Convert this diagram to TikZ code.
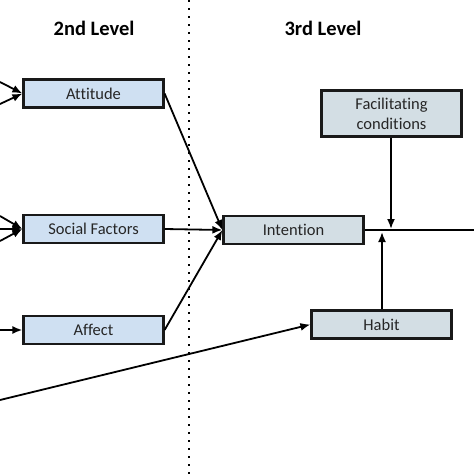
\documentclass[tikz,border=0pt]{standalone}
\usepackage{fontspec}
\setmainfont{Carlito}[Ligatures=NoCommon]
\usetikzlibrary{arrows.meta}
\definecolor{boxblue}{RGB}{207,224,242}
\definecolor{boxgrey}{RGB}{211,222,228}
\begin{document}
\begin{tikzpicture}[x=1pt,y=-1pt,
  lvbox/.style={draw=black!90,line width=2.2pt,fill=boxblue,minimum width=140pt,minimum height=28pt,inner sep=0pt,font=\fontsize{16.5}{20}\selectfont,text=black!85},
  gbox/.style={lvbox,fill=boxgrey},
  conn/.style={line width=1.8pt,-{Latex[length=10pt,width=8pt]}},
  plain/.style={line width=1.8pt},
  title/.style={font=\fontsize{20.5}{24}\selectfont\bfseries}]
\useasboundingbox (0,0) rectangle (474,474);
\fill[white] (0,0) rectangle (474,474);
% dotted separator
\draw[line width=2pt,dash pattern=on 2pt off 6pt] (189,0) -- (189,474);
% titles
\node[title] (t2) at (94,28) {2nd Level};
\node[title] (t3) at (323,28) {3rd Level};
% boxes
\node[lvbox] (att) at (93.5,93.5) {Attitude};
\node[lvbox] (soc) at (93.5,229) {Social Factors};
\node[lvbox] (aff) at (93.5,330) {Affect};
\node[gbox] (int) at (293.5,230) {Intention};
\node[gbox,minimum height=46pt,align=center] (fac) at (391.5,113.5) {Facilitating\\conditions};
\node[gbox] (hab) at (381.5,324.5) {Habit};
% free ends
\coordinate (a1) at (0,82);
\coordinate (a2) at (0,104);
\coordinate (s1) at (0,216);
\coordinate (s2) at (0,229);
\coordinate (s3) at (0,241);
\coordinate (f1) at (0,330);
\coordinate (b1) at (0,400);
\coordinate (out) at (474,230);
\coordinate (fj) at (391,229);
\coordinate (hj) at (382,232);
% incoming
\draw[conn] (a1) -- (att.west);
\draw[conn] (a2) -- (att.west);
\draw[conn] (s1) -- (soc.west);
\draw[conn] (s2) -- (soc.west);
\draw[conn] (s3) -- (soc.west);
\draw[conn] (f1) -- (aff.west);
% to intention
\draw[conn] (att.east) -- (int.west);
\draw[conn] (soc.east) -- (int.west);
\draw[conn] (aff.east) -- (int.west);
% output
\draw[plain] (int.east) -- (out);
\draw[conn] (fac.south -| fj) -- (fj);
\draw[conn] (hab.north -| hj) -- (hj);
\draw[conn] (b1) -- (hab.west);
\end{tikzpicture}
\end{document}
